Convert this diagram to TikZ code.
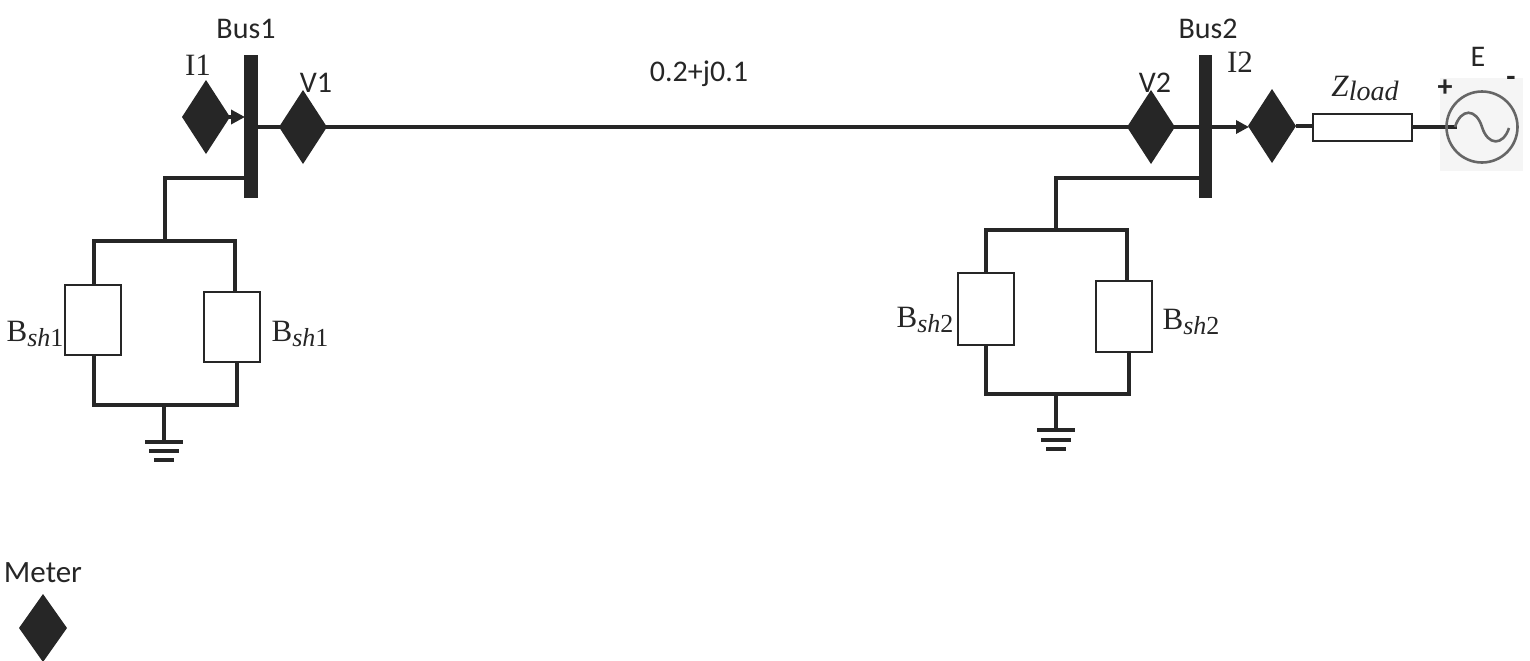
\documentclass[tikz,border=0pt]{standalone}
\usepackage{fontspec}
\setmainfont{Carlito}
\newfontfamily\mathlike{Liberation Serif}
\usetikzlibrary{arrows.meta}
\definecolor{ink}{HTML}{262626}
\tikzset{
  x=0.5pt,y=-0.5pt,
  wire/.style={draw=ink,line width=2pt,line cap=rect},
  main wire/.style={draw=ink,line width=1.7pt},
  thin wire/.style={draw=ink,line width=1.7pt},
  meter/.style={fill=ink,draw=none},
  element/.style={draw=ink,line width=1.3pt,fill=white,inner sep=0pt},
  label/.style={text=ink,font=\fontsize{15}{17}\selectfont,inner sep=0pt},
  seriflabel/.style={text=ink,font=\fontsize{15.5}{17}\mathlike,inner sep=0pt},
}
\newcommand{\Bsub}[1]{B{\fontsize{13}{14}\selectfont\raisebox{-2.5pt}{\textit{sh}#1}}}
\begin{document}
\begin{tikzpicture}
\useasboundingbox (0,0) rectangle (1530,660);
% source background
\fill[black!4] (1440,78) rectangle (1523,171);

% coordinates
\coordinate (b1b) at (258,127);
\coordinate (b2a) at (1199,127); \coordinate (b2b) at (1212,127);
\coordinate (s1a) at (244,178); \coordinate (s1b) at (165,178); \coordinate (s1c) at (165,241);
\coordinate (t1l) at (94,241); \coordinate (t1r) at (235,241);
\coordinate (u1l) at (94,405); \coordinate (u1r) at (237,405); \coordinate (g1) at (164,405); \coordinate (g1e) at (164,442);
\coordinate (s2a) at (1199,178); \coordinate (s2b) at (1056,178); \coordinate (s2c) at (1056,230);
\coordinate (t2l) at (986,230); \coordinate (t2r) at (1127,230);
\coordinate (u2l) at (986,394); \coordinate (u2r) at (1129,394); \coordinate (g2) at (1056,394); \coordinate (g2e) at (1056,430);

% main wires
\draw[main wire] (b1b) -- (b2a);
\draw[main wire,-{Triangle[length=6.5pt,width=6.5pt]}] (b2b) -- (1249,127);
\draw[thin wire,-{Triangle[length=7pt,width=7pt]}] (229,117) -- (245,117);
\draw[main wire] (1296,126) -- (1313,126);
\draw[wire] (1412,127) -- (1455,127);

% shunt 1
\draw[thin wire] (s1a) -- (s1b) -- (s1c);
\draw[wire] (t1l) -- (t1r);
\draw[wire] (u1l) -- (u1r);
\draw[wire] (t1l) -- (94,285); \draw[wire] (94,355) -- (u1l);
\draw[wire] (t1r) -- (235,292); \draw[wire] (237,362) -- (u1r);
\draw[thin wire] (g1) -- (g1e);
\draw[thin wire] (145,442) -- (183,442);
\draw[thin wire] (149,451) -- (179,451);
\draw[thin wire] (154,460) -- (174,460);

% shunt 2
\draw[thin wire] (s2a) -- (s2b) -- (s2c);
\draw[wire] (t2l) -- (t2r);
\draw[wire] (u2l) -- (u2r);
\draw[wire] (t2l) -- (986,273); \draw[wire] (986,345) -- (u2l);
\draw[wire] (t2r) -- (1127,281); \draw[wire] (1129,352) -- (u2r);
\draw[thin wire] (g2) -- (g2e);
\draw[thin wire] (1037,430) -- (1075,430);
\draw[thin wire] (1041,440) -- (1071,440);
\draw[thin wire] (1046,449) -- (1066,449);

% buses
\fill[ink] (244,55) rectangle (258,198);
\fill[ink] (1199,55) rectangle (1212,198);

% meters
\fill[meter] (206,80) -- (230,117) -- (206,154) -- (182,117) -- cycle;
\fill[meter] (303,90) -- (327,127) -- (303,164) -- (279,127) -- cycle;
\fill[meter] (1151,90) -- (1175,127) -- (1151,164) -- (1127,127) -- cycle;
\fill[meter] (1272,89) -- (1296,126) -- (1272,163) -- (1248,126) -- cycle;
\fill[meter] (43,594) -- (67,628) -- (43,662) -- (19,628) -- cycle;

% elements
\draw[element] (65,285) rectangle (121,355);
\draw[element] (204,292) rectangle (260,362);
\draw[element] (958,273) rectangle (1014,345);
\draw[element] (1096,281) rectangle (1152,352);
\draw[element] (1313,114) rectangle (1412,141);

% source
\draw[black!60,line width=1.3pt] (1482,127) circle (35.5);
\draw[black!60,line width=1.3pt] (1455,127) .. controls (1461,108) and (1476,108) .. (1482,127)
  .. controls (1488,146) and (1503,146) .. (1509,128);

% labels
\node[label] (nb1) at (246,29) {Bus1};
\node[seriflabel] (ni1) at (198,65) {I1};
\node[label] (nv1) at (316,83) {V1};
\node[label] (nz) at (699,74) {0.2+j0.1};
\node[label] (nb2) at (1208,29) {Bus2};
\node[seriflabel] (ni2) at (1240,62) {I2};
\node[label] (nv2) at (1155,83) {V2};
\node[seriflabel] (nl) at (1365,88) {\textit{Z}{\fontsize{14}{15}\selectfont\raisebox{-2pt}{\textit{load}}}};
\node[label] (ne) at (1478,57) {E};
\node[label] (npl) at (1445,88) {\textbf{+}};
\node[label] (nmi) at (1511,81) {\textbf{-}};
\node[seriflabel] (nb11) at (35,334) {\Bsub{1}};
\node[seriflabel] (nb12) at (300,334) {\Bsub{1}};
\node[seriflabel] (nb21) at (925,320) {\Bsub{2}};
\node[seriflabel] (nb22) at (1191,322) {\Bsub{2}};
\node[label,font=\fontsize{15.5}{17}\selectfont] (nm) at (43,573) {Meter};
\end{tikzpicture}
\end{document}
